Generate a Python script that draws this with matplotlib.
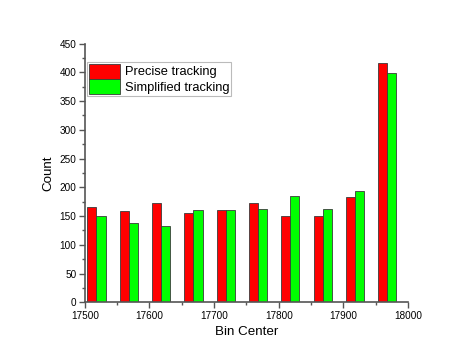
import numpy as np
import matplotlib.pyplot as plt
from matplotlib.ticker import MultipleLocator

plt.rcParams['font.family'] = ['Liberation Sans', 'DejaVu Sans']

bin_center = np.array([17518, 17568, 17618, 17668, 17718, 17768, 17818, 17868, 17918, 17968])
precise = np.array([166, 159, 173, 156, 160, 173, 150, 151, 183, 417])
simplified = np.array([151, 138, 133, 161, 161, 162, 185, 163, 194, 398])

bar_w = 14

fig = plt.figure(figsize=(4.74, 3.63), dpi=100)
ax = fig.add_axes([0.179, 0.167, 0.682, 0.713])

ax.bar(bin_center - bar_w / 2, precise, width=bar_w, color='#ff0000',
       edgecolor='#3a3a3a', linewidth=0.6, label='Precise tracking')
ax.bar(bin_center + bar_w / 2, simplified, width=bar_w, color='#00ff00',
       edgecolor='#3a3a3a', linewidth=0.6, label='Simplified tracking')

ax.set_xlim(17500, 18000)
ax.set_ylim(0, 450)
ax.xaxis.set_major_locator(MultipleLocator(100))
ax.xaxis.set_minor_locator(MultipleLocator(50))
ax.yaxis.set_major_locator(MultipleLocator(50))
ax.yaxis.set_minor_locator(MultipleLocator(25))

for s in ['top', 'right']:
    ax.spines[s].set_visible(False)
for s in ['left', 'bottom']:
    ax.spines[s].set_color('#555555')
    ax.spines[s].set_linewidth(1.2)

ax.tick_params(which='major', direction='out', length=4, width=1, color='#555555',
               labelsize=7.2, pad=2)
ax.tick_params(which='minor', direction='out', length=2.5, width=1, color='#555555')

ax.set_xlabel('Bin Center', fontsize=9.6, labelpad=4)
ax.set_ylabel('Count', fontsize=9.6, labelpad=4)

leg = ax.legend(loc='upper left', bbox_to_anchor=(0.0, 0.94), fontsize=9.3,
                frameon=True, fancybox=False, borderpad=0.15, handlelength=2.4,
                handleheight=1.4, handletextpad=0.35, labelspacing=0.05,
                borderaxespad=0.2)
leg.get_frame().set_edgecolor('#aaaaaa')
leg.get_frame().set_linewidth(0.8)

fig.savefig('out.png', dpi=100)
